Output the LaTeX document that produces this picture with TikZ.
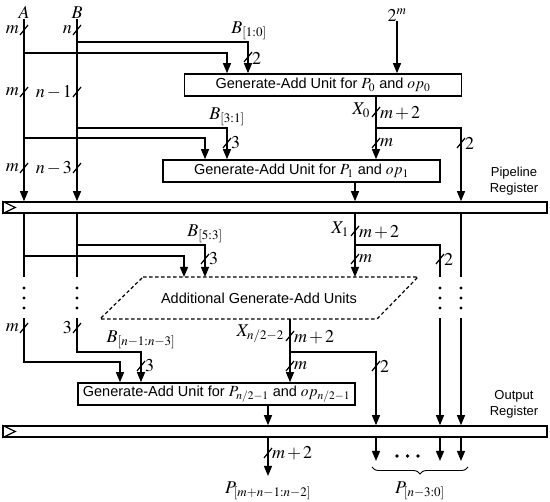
\documentclass[tikz,border=0pt]{standalone}
\usepackage{mathptmx}
\usepackage{fontspec}
\setmainfont{Liberation Serif}
\setsansfont{Liberation Sans}
\DeclareMathSizes{18}{18}{13}{10}
\DeclareMathSizes{14.5}{15.5}{11.5}{9}
\medmuskip=2mu plus 1mu minus 1mu
\usetikzlibrary{arrows.meta,decorations.pathreplacing}
\tikzset{
  wire/.style={line width=1.2pt},
  arr/.style={wire,-{Triangle[length=10pt,width=8pt]}},
  unit/.style={draw,line width=1.6pt,minimum height=22pt,minimum width=277pt,
               inner sep=0pt,font=\fontsize{14.5}{16}\sffamily},
  reg/.style={draw,line width=1.6pt,minimum height=11pt,minimum width=544pt,inner sep=0pt},
  lbl/.style={font=\fontsize{18}{20}\selectfont,inner sep=0pt},
  side/.style={font=\fontsize{13}{16}\sffamily,align=center},
  buswidth/.pic={\draw[wire] (-4,5) -- (4,-5);},
  vdots/.pic={\fill (0,-10) circle (1.7pt) (0,0) circle (1.7pt) (0,10) circle (1.7pt);},
}
\begin{document}
\begin{tikzpicture}[x=1pt,y=-1pt]
    \useasboundingbox (0,0) rectangle (550,502);
    % registers
    \node[reg] (pipe) at (275,207.5) {};
    \node[reg] (outr) at (275,431.5) {};
    \foreach \r in {pipe,outr}
      \draw[wire] (\r.north west) -- ([xshift=13pt]\r.west) -- (\r.south west);
    \node[side] (pipelbl) at (514,181) {Pipeline\\Register};
    \node[side] (outlbl) at (514,404) {Output\\Register};
    % generate-add units
    \node[unit] (ga0) at (323,85) {Generate-Add Unit for $P_0$ and $op_0$};
    \node[unit] (ga1) at (301.5,171) {Generate-Add Unit for $P_1$ and $op_1$};
    \node[unit] (ga3) at (216.5,394) {Generate-Add Unit for $P_{n/2-1}$ and $op_{n/2-1}$};
    \coordinate (add-nw) at (143,277);
    \coordinate (add-ne) at (418,277);
    \coordinate (add-se) at (377,319);
    \coordinate (add-sw) at (100,319);
    \draw[wire,dash pattern=on 3.5pt off 2.5pt] (add-nw) -- (add-ne) -- (add-se) -- (add-sw) -- cycle;
    \node[font=\fontsize{14.5}{16}\sffamily] (addl) at (259,298) {Additional Generate-Add Units};
    % inputs
    \node[lbl,anchor=south] (inA) at (24,19) {$A$};
    \node[lbl,anchor=south] (inB) at (77,19) {$B$};
    \node[lbl] (in2m) at (397,15) {$2^m$};
    \draw[arr] (inA.south) -- (inA.south |- pipe.north);
    \draw[arr] (inB.south) -- (inB.south |- pipe.north);
    \draw[arr] (in2m) -- (in2m |- ga0.north);
    \foreach \y/\t in {30/m,92/m,168/m} {
      \pic at (24,\y) {buswidth};
      \node[lbl,left=5pt] at (24,\y) {$\t$};
    }
    \foreach \y/\t in {30/n,92/n-1,168/n-3} {
      \pic at (77,\y) {buswidth};
      \node[lbl,left=5pt] at (77,\y) {$\t$};
    }
    % stage 0
    \draw[arr] (24,53) -| (227,0 |- ga0.north);
    \draw[arr] (77,42) -| (248,0 |- ga0.north);
    \node[lbl] (b10) at (249,31) {$B_{[1:0]}$};
    \pic at (248,57) {buswidth};
    \node[lbl,right=4pt] at (248,58) {$2$};
    \draw[arr] (376,0 |- ga0.south) -- (376,0 |- ga1.north);
    \draw[arr] (376,128) -| (461,0 |- pipe.north);
    \pic at (376,112) {buswidth};
    \node[lbl,left=6pt] at (376,110) {$X_0$};
    \node[lbl,right=4pt] at (376,113) {$m+2$};
    \pic at (376,143) {buswidth};
    \node[lbl,right=4pt] at (376,143) {$m$};
    \pic at (461,143) {buswidth};
    \node[lbl,right=4pt] at (461,143) {$2$};
    % stage 1
    \draw[arr] (24,138) -| (205,0 |- ga1.north);
    \draw[arr] (77,128) -| (227,0 |- ga1.north);
    \node[lbl] (b31) at (227,117) {$B_{[3:1]}$};
    \pic at (227,143) {buswidth};
    \node[lbl,right=4pt] at (227,143) {$3$};
    \draw[arr] (355,0 |- ga1.south) -- (355,0 |- pipe.north);
    % after pipeline register
    \draw[wire] (24,0 |- pipe.south) -- (24,277);
    \draw[wire] (77,0 |- pipe.south) -- (77,277);
    \draw[wire] (440,245) -- (440,277);
    \draw[wire] (461,0 |- pipe.south) -- (461,277);
    \foreach \x in {24,77,440,461}
      \pic at (\x,298) {vdots};
    \draw[arr] (24,256) -| (184,0 |- add-nw);
    \draw[arr] (77,245) -| (205,0 |- add-nw);
    \node[lbl] (b53) at (205,234) {$B_{[5:3]}$};
    \pic at (205,259) {buswidth};
    \node[lbl,right=4pt] at (205,259) {$3$};
    \draw[arr] (355,0 |- pipe.south) -- (355,0 |- add-nw);
    \draw[wire] (355,245) -| (440,277);
    \pic at (355,231) {buswidth};
    \node[lbl,left=6pt] at (355,229) {$X_1$};
    \node[lbl,right=4pt] at (355,232) {$m+2$};
    \pic at (355,259) {buswidth};
    \node[lbl,right=4pt] at (355,259) {$m$};
    \pic at (440,259) {buswidth};
    \node[lbl,right=4pt] at (440,259) {$2$};
    % last stage
    \pic at (24,328) {buswidth};
    \node[lbl,left=5pt] at (24,328) {$m$};
    \pic at (77,328) {buswidth};
    \node[lbl,left=5pt] at (77,328) {$3$};
    \draw[arr] (24,318) |- (120,362) -- (120,0 |- ga3.north);
    \draw[arr] (77,318) |- (141,352) -- (141,0 |- ga3.north);
    \node[lbl] (bn13) at (141,340) {$B_{[n-1:n-3]}$};
    \pic at (141,366) {buswidth};
    \node[lbl,right=4pt] at (141,366) {$3$};
    \draw[arr] (290,0 |- add-sw) -- (290,0 |- ga3.north);
    \draw[arr] (290,352) -| (376,0 |- outr.north);
    \pic at (290,336) {buswidth};
    \node[lbl,left=6pt] at (290,334) {$X_{n/2-2}$};
    \node[lbl,right=4pt] at (290,337) {$m+2$};
    \pic at (290,366) {buswidth};
    \node[lbl,right=4pt] at (290,366) {$m$};
    \pic at (376,366) {buswidth};
    \node[lbl,right=4pt] at (376,366) {$2$};
    \draw[arr] (440,318) -- (440,0 |- outr.north);
    \draw[arr] (461,318) -- (461,0 |- outr.north);
    \draw[arr] (268,0 |- ga3.south) -- (268,0 |- outr.north);
    % outputs
    \draw[arr] (268,0 |- outr.south) -- (268,476);
    \pic at (268,453) {buswidth};
    \node[lbl,right=4pt] at (268,453) {$m+2$};
    \node[lbl] (phigh) at (268,491) {$P_{[m+n-1:n-2]}$};
    \foreach \x in {397,407.5,418}
      \fill (\x,456) circle (1.8pt);
    \foreach \x in {376,440,461}
      \draw[arr] (\x,0 |- outr.south) -- (\x,461);
    \draw[line width=0.9pt,decorate,decoration={brace,mirror,amplitude=7pt}] (372,467) -- (468,467);
    \node[lbl] (plow) at (420,491) {$P_{[n-3:0]}$};
\end{tikzpicture}
\end{document}
